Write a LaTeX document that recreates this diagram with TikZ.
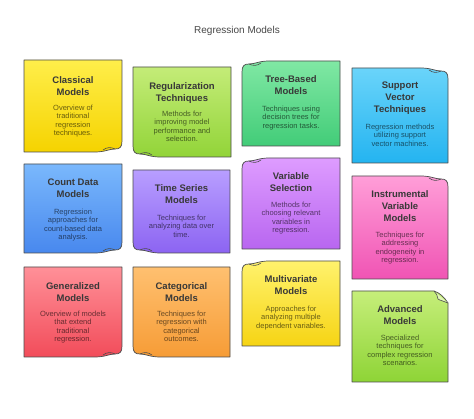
\documentclass[tikz,border=0pt]{standalone}
\usepackage{fontspec}
\setmainfont{Liberation Sans}
\definecolor{c1t}{HTML}{FFEE4A}\definecolor{c1b}{HTML}{F5D300}
\definecolor{c2t}{HTML}{C4EC78}\definecolor{c2b}{HTML}{92D438}
\definecolor{c3t}{HTML}{80E8A4}\definecolor{c3b}{HTML}{42CC78}
\definecolor{c4t}{HTML}{6AD4FA}\definecolor{c4b}{HTML}{24B4F0}
\definecolor{c5t}{HTML}{7AB8FC}\definecolor{c5b}{HTML}{4888EE}
\definecolor{c6t}{HTML}{B89EFF}\definecolor{c6b}{HTML}{8C64F2}
\definecolor{c7t}{HTML}{DE9CFF}\definecolor{c7b}{HTML}{B866F0}
\definecolor{c8t}{HTML}{FF9ED8}\definecolor{c8b}{HTML}{F054B4}
\definecolor{c9t}{HTML}{FF9098}\definecolor{c9b}{HTML}{F24C5A}
\definecolor{c10t}{HTML}{FFC070}\definecolor{c10b}{HTML}{F69C36}
\definecolor{c11t}{HTML}{FFF26C}\definecolor{c11b}{HTML}{F6D414}
\definecolor{c12t}{HTML}{C6EE7A}\definecolor{c12b}{HTML}{8ED436}
\begin{document}
\begin{tikzpicture}[x=1pt,y=-1pt,
  notebox/.style={draw=black!70,line width=0.7pt,line join=round},
  flapline/.style={draw=black!70,line width=0.6pt},
  ttl/.style={anchor=north,inner sep=0pt,align=center,text=black!78,font=\bfseries\fontsize{9.5}{12}\selectfont},
  dsc/.style={anchor=north,inner sep=0pt,align=center,text=black,text opacity=0.58,font=\fontsize{7.5}{8.3}\selectfont},
  hdr/.style={inner sep=0pt,text=black!72,font=\fontsize{10}{12}\selectfont}]
\useasboundingbox (0,0) rectangle (474,419);
\fill[white] (0,0) rectangle (474,419);
\newcommand\Pt[2]{({\cx+(\sx)*(#1)},{\cy+(\sy)*(#2)})}
% #1 x1 #2 y1 #3 x2 #4 y2 #5 sx #6 sy #7 top #8 bottom
\newcommand\curlnote[8]{%
 \pgfmathsetmacro\cx{(#1+#3)/2}\pgfmathsetmacro\cy{(#2+#4)/2}%
 \pgfmathsetmacro\hw{(#3-#1)/2}\pgfmathsetmacro\hh{(#4-#2)/2}%
 \def\sx{#5}\def\sy{#6}%
 \path[notebox,top color=#7,bottom color=#8] \Pt{-\hw}{-\hh} -- \Pt{\hw}{-\hh} -- \Pt{\hw}{\hh-11}
   .. controls \Pt{\hw}{\hh-5} and \Pt{\hw-2}{\hh-3} .. \Pt{\hw-7}{\hh-3}
   .. controls \Pt{\hw-13}{\hh-3} and \Pt{\hw-17}{\hh} .. \Pt{\hw-27}{\hh}
   -- \Pt{-\hw}{\hh} -- cycle;
 \draw[flapline] \Pt{\hw-7}{\hh-3} .. controls \Pt{\hw-11}{\hh-5} and \Pt{\hw-15}{\hh-5} .. \Pt{\hw-19}{\hh-2};
}
\newcommand\foldnote[8]{%
 \pgfmathsetmacro\cx{(#1+#3)/2}\pgfmathsetmacro\cy{(#2+#4)/2}%
 \pgfmathsetmacro\hw{(#3-#1)/2}\pgfmathsetmacro\hh{(#4-#2)/2}%
 \def\sx{#5}\def\sy{#6}%
 \path[notebox,top color=#7,bottom color=#8] \Pt{-\hw}{-\hh} -- \Pt{\hw}{-\hh} -- \Pt{\hw}{\hh-12}
   .. controls \Pt{\hw-4}{\hh-6} and \Pt{\hw-8}{\hh-2} .. \Pt{\hw-14}{\hh}
   -- \Pt{-\hw}{\hh} -- cycle;
 \path[flapline,fill=white!45!#7] \Pt{\hw}{\hh-12} .. controls \Pt{\hw-5}{\hh-10} and \Pt{\hw-9}{\hh-9} .. \Pt{\hw-10}{\hh-8}
   .. controls \Pt{\hw-10}{\hh-5} and \Pt{\hw-12}{\hh-2} .. \Pt{\hw-14}{\hh};
}
\node[hdr] (title) at (237,31) {Regression Models};
% row 1
\curlnote{24}{60}{122}{152}{1}{1}{c1t}{c1b};
\curlnote{133}{67}{231}{157}{-1}{1}{c2t}{c2b};
\curlnote{242}{61}{340}{146}{-1}{-1}{c3t}{c3b};
\curlnote{352}{68}{448}{163}{1}{-1}{c4t}{c4b};
% row 2
\curlnote{24}{164}{122}{253}{1}{1}{c5t}{c5b};
\curlnote{133}{170}{230}{253}{-1}{1}{c6t}{c6b};
\curlnote{242}{158}{340}{249}{-1}{-1}{c7t}{c7b};
\curlnote{352}{176}{448}{279}{1}{-1}{c8t}{c8b};
% row 3
\curlnote{24}{267}{122}{357}{1}{1}{c9t}{c9b};
\curlnote{133}{267}{230}{357}{-1}{1}{c10t}{c10b};
\curlnote{242}{261}{340}{346}{-1}{-1}{c11t}{c11b};
\foldnote{352}{291}{448}{382}{1}{-1}{c12t}{c12b};
% texts
\node[ttl] (t1) at (73,76) {Classical\\Models};
\node[dsc] (d1) at (73,105) {Overview of\\traditional\\regression\\techniques.};
\node[ttl] (t2) at (182,82) {Regularization\\Techniques};
\node[dsc] (d2) at (182,111) {Methods for\\improving model\\performance and\\selection.};
\node[ttl] (t3) at (291,75) {Tree-Based\\Models};
\node[dsc] (d3) at (291,106) {Techniques using\\decision trees for\\regression tasks.};
\node[ttl] (t4) at (400,82) {Support\\Vector\\Techniques};
\node[dsc] (d4) at (400,124) {Regression methods\\utilizing support\\vector machines.};
\node[ttl] (t5) at (73,179) {Count Data\\Models};
\node[dsc] (d5) at (73,209) {Regression\\approaches for\\count-based data\\analysis.};
\node[ttl] (t6) at (181.5,184) {Time Series\\Models};
\node[dsc] (d6) at (181.5,215) {Techniques for\\analyzing data over\\time.};
\node[ttl] (t7) at (291,172) {Variable\\Selection};
\node[dsc] (d7) at (291,202) {Methods for\\choosing relevant\\variables in\\regression.};
\node[ttl] (t8) at (400,190) {Instrumental\\Variable\\Models};
\node[dsc] (d8) at (400,232) {Techniques for\\addressing\\endogeneity in\\regression.};
\node[ttl] (t9) at (73,282) {Generalized\\Models};
\node[dsc] (d9) at (73,311) {Overview of models\\that extend\\traditional\\regression.};
\node[ttl] (t10) at (181.5,282) {Categorical\\Models};
\node[dsc] (d10) at (181.5,311) {Techniques for\\regression with\\categorical\\outcomes.};
\node[ttl] (t11) at (291,275) {Multivariate\\Models};
\node[dsc] (d11) at (291,306) {Approaches for\\analyzing multiple\\dependent variables.};
\node[ttl] (t12) at (400,305) {Advanced\\Models};
\node[dsc] (d12) at (400,335) {Specialized\\techniques for\\complex regression\\scenarios.};
\end{tikzpicture}
\end{document}
